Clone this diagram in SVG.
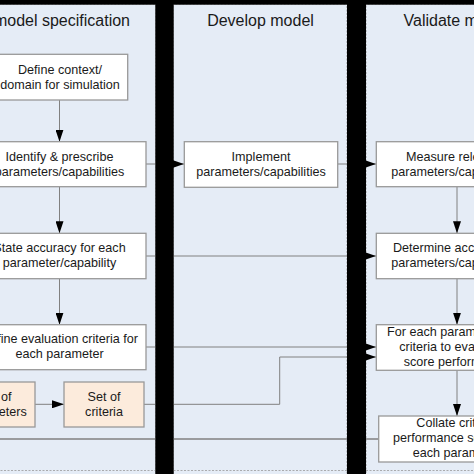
<svg xmlns="http://www.w3.org/2000/svg" width="474" height="474" viewBox="0 0 474 474">
<style>
.lane{fill:#e5ecf6;stroke:#8c8c8c;stroke-width:0.8;stroke-dasharray:2,1.5}
.bar{fill:#000}
.box{fill:#fff;stroke:#999;stroke-width:1.3}
.obox{fill:#fcebdc;stroke:#999;stroke-width:1.3}
.t{font-family:"Liberation Sans",Arial,sans-serif;font-size:12.6px;fill:#1a1a1a;text-anchor:middle}
.ts{font-family:"Liberation Sans",Arial,sans-serif;font-size:12.6px;fill:#1a1a1a;text-anchor:start}
.title{font-family:"Liberation Sans",Arial,sans-serif;font-size:16px;fill:#1a1a1a}
.c{fill:none;stroke:#808080;stroke-width:1}
.div{fill:none;stroke:#9a9a9a;stroke-width:0.8;stroke-dasharray:2,1.5}
</style>
<defs>
<marker id="ah" markerUnits="userSpaceOnUse" markerWidth="12" markerHeight="8" refX="12" refY="4" orient="auto">
<path d="M0,0 L12,4 L0,8 z" fill="#000"/>
</marker>
</defs>
<rect x="0" y="0" width="474" height="474" fill="#000"/>
<g id="lanes">
<rect class="lane" x="-10" y="4.5" width="165.5" height="480"/>
<rect class="lane" x="173.5" y="4.5" width="173.5" height="480"/>
<rect class="lane" x="366" y="4.5" width="120" height="480"/>
<path class="div" d="M-10,470.5 H155.5 M173.5,470.5 H347 M366,470.5 H480"/>
</g>
<g id="connectors">
<path class="c" d="M59.5,100 V141.7" marker-end="url(#ah)"/>
<path class="c" d="M59.5,186.7 V233.3" marker-end="url(#ah)"/>
<path class="c" d="M59.5,278.7 V324.7" marker-end="url(#ah)"/>
<path class="c" d="M146,164 H184.3" marker-end="url(#ah)"/>
<path class="c" d="M337.7,164 H376.3" marker-end="url(#ah)"/>
<path class="c" d="M146,256 H376.3" marker-end="url(#ah)"/>
<path class="c" d="M146,347 H376.3" marker-end="url(#ah)"/>
<path class="c" d="M144,404.3 H279.7 V357 H376.3" marker-end="url(#ah)"/>
<path class="c" d="M35,404.3 H64" marker-end="url(#ah)"/>
<path class="c" d="M-10,439 H378.7" style="stroke-width:1.5"/>
<path class="c" d="M457,186.7 V233.3" marker-end="url(#ah)"/>
<path class="c" d="M457,278.7 V324.7" marker-end="url(#ah)"/>
<path class="c" d="M457,370.3 V416" marker-end="url(#ah)"/>
</g>
<g id="separators">
<rect class="bar" x="155.5" y="0" width="18" height="474"/>
<rect class="bar" x="347" y="0" width="19" height="474"/>
<rect class="bar" x="0" y="0" width="474" height="4.5"/>
</g>
<g id="titles">
<text class="title" x="130" y="26" text-anchor="end">model specification</text>
<text class="title" x="260.5" y="26" text-anchor="middle">Develop model</text>
<text class="title" x="403.5" y="26">Validate model</text>
</g>
<g id="n1"><rect class="box" x="-8.7" y="54.3" width="136.4" height="45.7"/>
<text class="t" x="60" y="73.5">Define context/</text><text class="t" x="60" y="88.5">domain for simulation</text></g>
<g id="n2"><rect class="box" x="-27" y="141.7" width="173" height="45"/>
<text class="t" x="59.5" y="160.5">Identify &amp; prescribe</text><text class="t" x="59.5" y="175.5">parameters/capabilities</text></g>
<g id="n3"><rect class="box" x="-27" y="233.3" width="173" height="45.4"/>
<text class="t" x="59.5" y="252.3">State accuracy for each</text><text class="t" x="59.5" y="267.3">parameter/capability</text></g>
<g id="n4"><rect class="box" x="-27" y="324.7" width="173" height="45"/>
<text class="t" x="59.5" y="343.3">Define evaluation criteria for</text><text class="t" x="59.5" y="358.3">each parameter</text></g>
<g id="n5"><rect class="obox" x="-45" y="382" width="80" height="45"/>
<text class="t" x="-5" y="400.8">Set of</text><text class="t" x="-5" y="415.8">parameters</text></g>
<g id="n6"><rect class="obox" x="64" y="382" width="80" height="45"/>
<text class="t" x="104" y="400.8">Set of</text><text class="t" x="104" y="415.8">criteria</text></g>
<g id="n7"><rect class="box" x="184.3" y="141.7" width="153.4" height="45.6"/>
<text class="t" x="261" y="160.5">Implement</text><text class="t" x="261" y="175.5">parameters/capabilities</text></g>
<g id="n8"><rect class="box" x="376.3" y="141.7" width="160" height="45"/>
<text class="ts" x="406" y="160.5">Measure relevant</text><text class="ts" x="391.3" y="175.5">parameters/capabilities</text></g>
<g id="n9"><rect class="box" x="376.3" y="233.3" width="160" height="45.4"/>
<text class="ts" x="393" y="252.3">Determine accuracy of</text><text class="ts" x="391.3" y="267.3">parameters/capabilities</text></g>
<g id="n10"><rect class="box" x="376.3" y="324.7" width="160" height="45.6"/>
<text class="ts" x="387" y="335.5">For each parameter, use</text><text class="ts" x="399.3" y="350.5">criteria to evaluate &amp;</text><text class="ts" x="403.7" y="365.5">score performance</text></g>
<g id="n11"><rect class="box" x="378.7" y="416" width="160" height="46"/>
<text class="ts" x="416.3" y="427">Collate criteria</text><text class="ts" x="393" y="442">performance scores for</text><text class="ts" x="412.7" y="457">each parameter</text></g>
</svg>
